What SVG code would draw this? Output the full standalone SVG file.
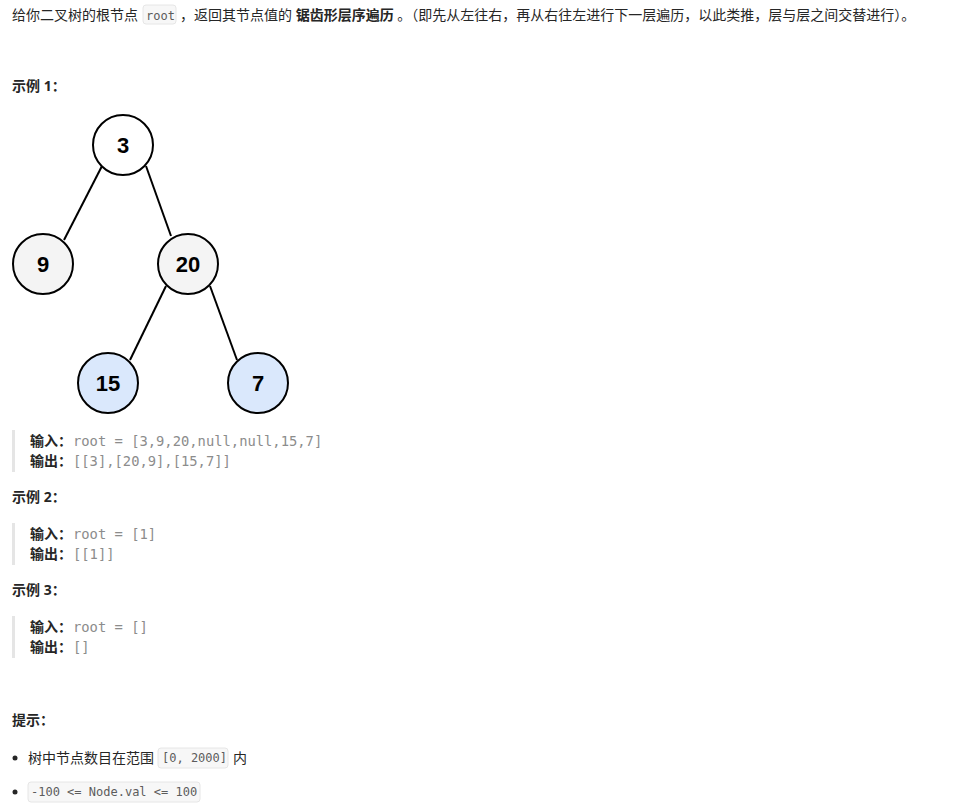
<svg xmlns="http://www.w3.org/2000/svg" width="953" height="811" viewBox="0 0 953 811">
<style>
.t{font-family:"Noto Sans","Noto Sans CJK SC",sans-serif;font-size:14px;fill:#262626}
.b{font-weight:bold}
.m{font-family:"DejaVu Sans Mono","Liberation Mono",monospace;font-size:13.8px;fill:#8c8c8c}
.mc{font-family:"DejaVu Sans Mono","Liberation Mono",monospace;font-size:12px;fill:#5c5c5c}
.code{fill:#f7f7f7;stroke:#e6e6e6;stroke-width:1}
.n{stroke:#000;stroke-width:2}
.nt{font-family:"Liberation Sans",Arial,sans-serif;font-size:22px;font-weight:bold;fill:#000;text-anchor:middle}
.bar{fill:#e5e5e5}
</style>
<rect width="953" height="811" fill="#fff"/>
<rect class="code" x="143" y="5" width="33" height="19" rx="3"/>
<text class="t" x="12" y="20">给你二叉树的根节点 <tspan class="mc" x="146">root</tspan><tspan x="180">，返回其节点值的 </tspan><tspan class="b">锯齿形层序遍历</tspan> 。（即先从左往右，再从右往左进行下一层遍历，以此类推，层与层之间交替进行）。</text>
<text class="t b" x="12" y="91">示例 1：</text>
<g id="connectors" stroke="#000" stroke-width="2">
<line x1="102" y1="166" x2="64" y2="240"/>
<line x1="146" y1="166" x2="171" y2="236"/>
<line x1="166" y1="286" x2="130" y2="360"/>
<line x1="210" y1="286" x2="237" y2="360"/>
</g>
<g id="n3"><circle class="n" cx="123" cy="145" r="30" fill="#fff"/><text class="nt" x="123" y="153">3</text></g>
<g id="n9"><circle class="n" cx="43" cy="264" r="30" fill="#f4f4f4"/><text class="nt" x="43" y="272" fill="#333">9</text></g>
<g id="n20"><circle class="n" cx="188" cy="264" r="30" fill="#f4f4f4"/><text class="nt" x="188" y="272">20</text></g>
<g id="n15"><circle class="n" cx="108" cy="383" r="30" fill="#dae8fc"/><text class="nt" x="108" y="391">15</text></g>
<g id="n7"><circle class="n" cx="258" cy="383" r="30" fill="#dae8fc"/><text class="nt" x="258" y="391">7</text></g>
<rect class="bar" x="12" y="430" width="3" height="42"/>
<text class="t b" x="30" y="446">输入：</text><text class="m" x="73" y="446">root = [3,9,20,null,null,15,7]</text>
<text class="t b" x="30" y="466">输出：</text><text class="m" x="73" y="466">[[3],[20,9],[15,7]]</text>
<text class="t b" x="12" y="502">示例 2：</text>
<rect class="bar" x="12" y="523" width="3" height="42"/>
<text class="t b" x="30" y="539">输入：</text><text class="m" x="73" y="539">root = [1]</text>
<text class="t b" x="30" y="559">输出：</text><text class="m" x="73" y="559">[[1]]</text>
<text class="t b" x="12" y="595">示例 3：</text>
<rect class="bar" x="12" y="616" width="3" height="42"/>
<text class="t b" x="30" y="632">输入：</text><text class="m" x="73" y="632">root = []</text>
<text class="t b" x="30" y="652">输出：</text><text class="m" x="73" y="652">[]</text>
<text class="t b" x="12" y="725">提示：</text>
<circle cx="15" cy="758" r="2.5" fill="#262626"/>
<rect class="code" x="158" y="748" width="70" height="20" rx="3"/>
<text class="t" x="28" y="763">树中节点数目在范围</text><text class="mc" x="162" y="762">[0, 2000]</text><text class="t" x="233" y="763">内</text>
<circle cx="15" cy="792" r="2.5" fill="#262626"/>
<rect class="code" x="28" y="782" width="172" height="20" rx="3"/>
<text class="mc" x="31" y="796">-100 &lt;= Node.val &lt;= 100</text>
</svg>
